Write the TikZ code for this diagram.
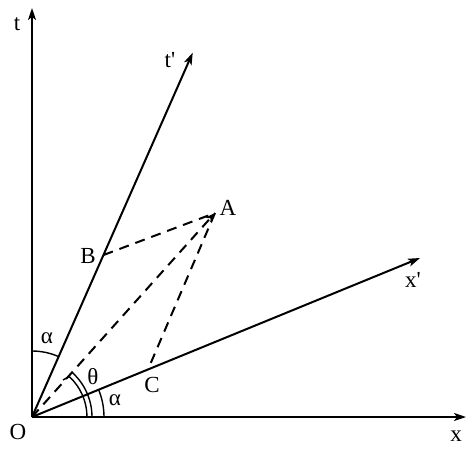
\documentclass[tikz,border=0pt]{standalone}
\usepackage{fontspec}
\setmainfont{Liberation Serif}
\usetikzlibrary{arrows.meta}
\begin{document}
\begin{tikzpicture}[x=1pt,y=-1pt,
  axis/.style={line width=2pt,-{Stealth[length=12pt,width=8pt,inset=3pt]}},
  dline/.style={line width=2pt,dash pattern=on 10pt off 7pt},
  lbl/.style={font=\fontsize{23}{27}\selectfont,inner sep=0pt},
  angarc/.style={line width=1.4pt}]
\useasboundingbox (0,0) rectangle (474,448);
\fill[white] (0,0) rectangle (474,448);
\coordinate (O) at (32,417);
\coordinate (T) at (32,8);
\coordinate (X) at (466,417);
\coordinate (Tp) at (192.7,52.7);
\coordinate (Xp) at (420,258);
\coordinate (A) at (215,213);
\coordinate (B) at (103.5,255);
\coordinate (C) at (148,369.5);
\coordinate (H1) at (69.2,376.5);
\coordinate (H2) at (63,380);
% axes
\draw[axis] (O) -- (T);
\draw[axis] (O) -- (X);
\draw[axis] (O) -- (Tp);
\draw[axis] (O) -- (Xp);
% dashed lines
\draw[dline] (B) -- (A);
\draw[dline,-{Stealth[length=10pt,width=8pt,inset=3pt]}] (O) -- (A);
\draw[dline] (A) -- (C);
% angle arcs
\draw[angarc] (32,351) arc[start angle=-90,end angle=-66.2,radius=66];
\draw[angarc] (104,417) arc[start angle=0,end angle=-22.3,radius=72];
\draw[angarc] (87,417) arc[start angle=0,end angle=-47.5,radius=55];
\draw[angarc] (92,417) arc[start angle=0,end angle=-47.5,radius=60];
\draw[angarc] (H1) -- (H2);
% labels
\node[lbl] (tl) at (17,24) {t};
\node[lbl] (xl) at (456,436) {x};
\node[lbl] (tpl) at (170,60) {t\textquotesingle};
\node[lbl] (xpl) at (413,280) {x\textquotesingle};
\node[lbl] (Al) at (228,208) {A};
\node[lbl] (Bl) at (88,256) {B};
\node[lbl] (Cl) at (152,385) {C};
\node[lbl] (Ol) at (18,432) {O};
\node[lbl] (a1) at (47,338) {α};
\node[lbl] (a2) at (115,400) {α};
\node[lbl] (th) at (93,377) {θ};
\end{tikzpicture}
\end{document}
